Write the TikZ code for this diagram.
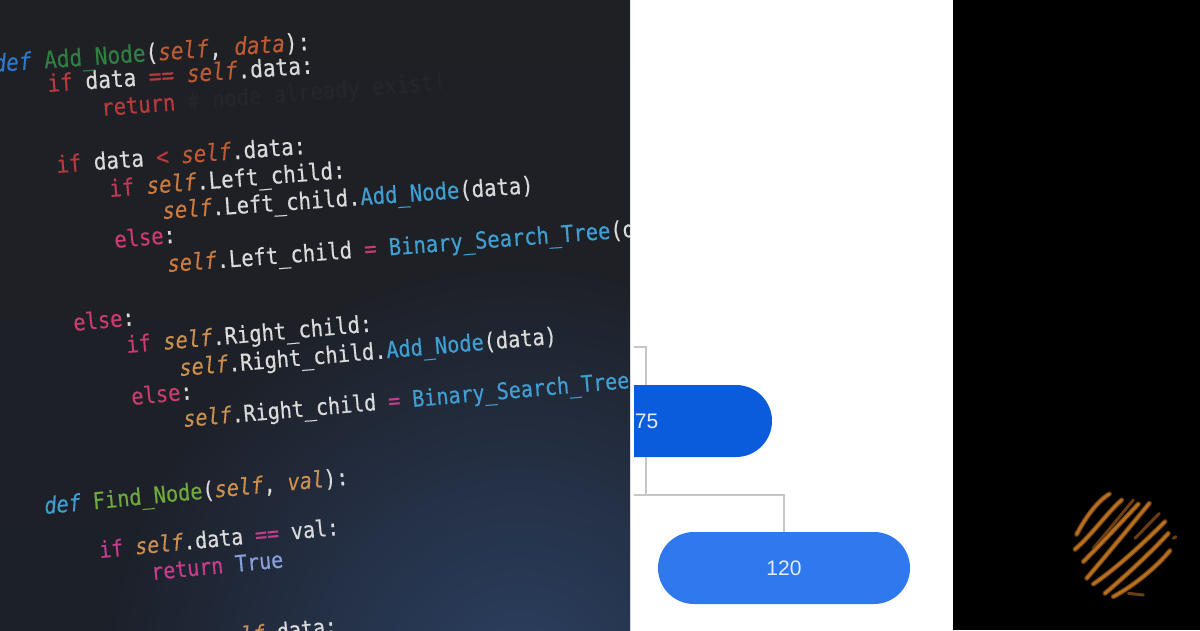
\documentclass[tikz,border=0pt]{standalone}
\usepackage{fontspec}
\setmainfont{Liberation Sans}
\newfontfamily\codefont[FakeStretch=0.88,FakeBold=0.35]{DejaVu Sans Mono}
\usetikzlibrary{shapes.misc,fadings}
\definecolor{bgtop}{HTML}{1F2024}
\definecolor{bgbot}{HTML}{1C2029}
\definecolor{glow}{HTML}{2E4468}
\definecolor{wht}{HTML}{DADADA}
\definecolor{redA}{HTML}{B83A3C}
\definecolor{redB}{HTML}{C23A52}
\definecolor{pinkA}{HTML}{CC3A72}
\definecolor{pinkB}{HTML}{C83C8C}
\definecolor{orgA}{HTML}{BE5A34}
\definecolor{orgB}{HTML}{CC7A3E}
\definecolor{orgC}{HTML}{CB9050}
\definecolor{bluA}{HTML}{3F9FD2}
\definecolor{bluD}{HTML}{2F78C8}
\definecolor{grnA}{HTML}{2F7F42}
\definecolor{grnB}{HTML}{6FA83E}
\definecolor{truec}{HTML}{8A9FD8}
\definecolor{faint}{HTML}{25262B}
\definecolor{pillA}{HTML}{0A5CDC}
\definecolor{pillB}{HTML}{2F78EE}
\definecolor{pilltxt}{HTML}{E4ECFB}
\definecolor{wire}{HTML}{C6C6C6}
\definecolor{hatch}{HTML}{B8701F}
\definecolor{hatchdim}{HTML}{6A3E12}
\tikzfading[name=glowfade, inner color=transparent!10, outer color=transparent!100]
\newcommand\cc[2]{\textcolor{#1}{#2}}
\newcommand\slf[1]{\textcolor{#1}{\itshape self}}
\newcommand\codeline[6]{%
  \node[codeline, rotate=#4] (#1) at (#2,#3) {\fontsize{\fpeval{#5*1.136}}{#5}\selectfont #6};}
\tikzset{
  codeline/.style={anchor=base west, inner sep=0pt, outer sep=0pt, font=\codefont, text=wht},
  pill/.style={rounded rectangle, inner sep=0pt, draw=none, text=pilltxt, font=\fontsize{21}{21}\selectfont, minimum height=72pt},
  wireline/.style={draw=wire, line width=1.6pt},
  halo/.style={draw=hatchdim, line width=5pt, line cap=round},
  stroke/.style={draw=hatch, line width=2.8pt, line cap=round}
}
\newcommand\hatchline[1]{\draw[halo] #1; \draw[stroke] #1;}
\begin{document}
\begin{tikzpicture}[x=1pt,y=-1pt]
\useasboundingbox (0,0) rectangle (1200,630);
% panels
\fill[white] (630,0) rectangle (953,630);
\fill[black] (953,0) rectangle (1200,630);
\begin{scope}
\clip (0,0) rectangle (630,630);
\shade[top color=bgtop, bottom color=bgbot] (0,0) rectangle (630,630);
\fill[glow, path fading=glowfade] (520,680) circle (420);
\codeline{l1}{-6}{72}{4}{21.1}{\cc{bluD}{\itshape def} \cc{grnA}{Add\_Node}(\slf{orgA}, \cc{orgA}{\itshape data}):}
\codeline{l2}{48}{92}{4}{21.1}{\cc{redA}{if} data \cc{redA}{==} \slf{orgA}.data:}
\codeline{l3}{102}{116}{4.4}{20.5}{\cc{redA}{return} \cc{faint}{\# node already exist!}}
\codeline{l4}{57}{173}{4.4}{20.8}{\cc{redA}{if} data \cc{redA}{<} \slf{orgA}.data:}
\codeline{l5}{110}{197}{4.6}{20.7}{\cc{redB}{if} \slf{orgB}.Left\_child:}
\codeline{l6}{163}{219}{4}{20.6}{\slf{orgB}.Left\_child.\cc{bluA}{Add\_Node}(data)}
\codeline{l7}{115}{248}{5}{20.5}{\cc{pinkA}{else}:}
\codeline{l8}{168}{272}{4.3}{20.5}{\slf{orgB}.Left\_child \cc{pinkA}{=} \cc{bluA}{Binary\_Search\_Tree}(d}
\codeline{l9}{74}{331}{5.5}{20.5}{\cc{pinkA}{else}:}
\codeline{l10}{127}{353}{5}{20.5}{\cc{pinkA}{if} \slf{orgC}.Right\_child:}
\codeline{l11}{180}{376}{4.9}{20.3}{\slf{orgC}.Right\_child.\cc{bluA}{Add\_Node}(data)}
\codeline{l12}{132}{405}{5.5}{20.5}{\cc{pinkA}{else}:}
\codeline{l13}{184}{427}{5}{20.1}{\slf{orgC}.Right\_child \cc{pinkB}{=} \cc{bluA}{Binary\_Search\_Tree}}
\codeline{l14}{45}{514}{5.5}{20.3}{\cc{bluA}{\itshape def} \cc{grnB}{Find\_Node}(\slf{orgC}, \cc{orgC}{\itshape val}):}
\codeline{l15}{100}{558}{5.5}{20}{\cc{pinkB}{if} \slf{orgC}.data \cc{pinkB}{==} val:}
\codeline{l16}{152}{580}{5.5}{20}{\cc{pinkB}{return} \cc{truec}{True}}
\codeline{l17}{218}{646}{6}{20}{\slf{orgC}.data:}
\end{scope}
% tree
\begin{scope}
\clip (634,330) rectangle (953,630);
\node[pill, fill=pillA, minimum width=276pt] (n75) at (634,421) {};
\node[pill, fill=pillB, minimum width=252pt] (n120) at (784,568) {120};
\node[text=pilltxt, font=\fontsize{21}{21}\selectfont, inner sep=0pt] (t75) at (646.5,421.5) {75};
\coordinate (topleft) at (634,347);
\coordinate (topturn) at (646,347);
\coordinate (topdown) at (646,385);
\coordinate (botup) at (646,457);
\coordinate (botleft) at (634,495);
\coordinate (botturn) at (784,495);
\draw[wireline] (topleft) -- (topturn) -- (topdown);
\draw[wireline] (botup) -- (botup |- botleft);
\draw[wireline] (botleft) -- (botturn) -- (n120.north);
\end{scope}
% hatched disc
\begin{scope}[shift={(1060,480)}, x=0.3333pt, y=-0.3333pt]
\draw[halo, line width=3pt] (220,60) -- (100,205);
\draw[halo, line width=3pt] (298,100) -- (225,175);
\draw[halo, line width=3pt] (250,345) -- (205,340);
\draw[halo, line width=3pt] (348,170) -- (340,175);
\hatchline{(148,42) .. controls (110,65) and (75,115) .. (50,163)}
\hatchline{(185,60) .. controls (140,100) and (95,165) .. (45,208)}
\hatchline{(235,72) .. controls (185,125) and (125,190) .. (70,245)}
\hatchline{(268,70) .. controls (210,140) and (140,225) .. (80,295)}
\hatchline{(315,125) .. controls (260,180) and (170,265) .. (100,312)}
\hatchline{(325,160) .. controls (280,210) and (200,285) .. (135,340)}
\hatchline{(330,212) .. controls (290,260) and (225,315) .. (160,350)}
\end{scope}
\end{tikzpicture}
\end{document}
